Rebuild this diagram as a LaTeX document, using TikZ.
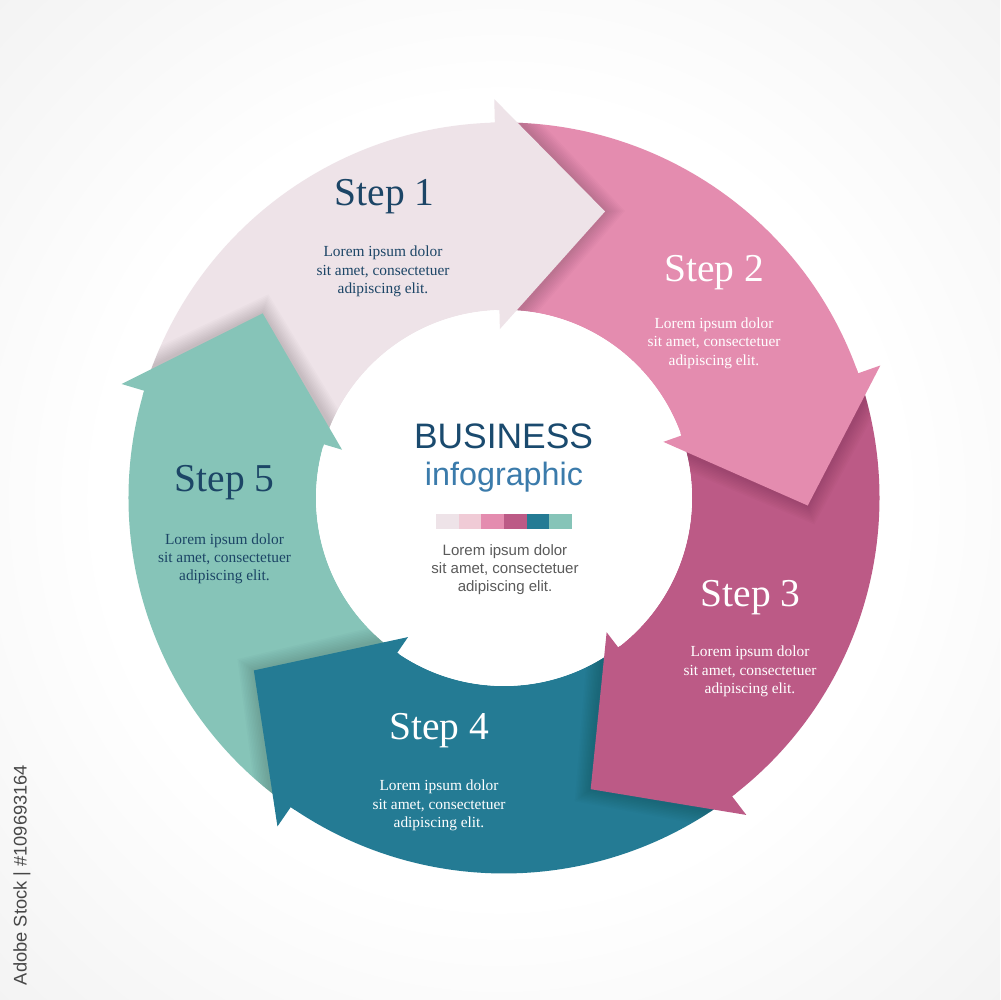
\documentclass[tikz,border=0pt]{standalone}
\usepackage{fontspec}
\setmainfont{Liberation Serif}
\newfontfamily\arialf{Liberation Sans}
\usetikzlibrary{calc}
\definecolor{cA}{HTML}{EEE3E8}
\definecolor{cAB}{HTML}{F0CBD6}
\definecolor{cB}{HTML}{E48CAF}
\definecolor{cC}{HTML}{BC5A86}
\definecolor{cD}{HTML}{247B94}
\definecolor{cE}{HTML}{86C4B8}
\definecolor{navy}{HTML}{1C4566}
\definecolor{bizblue}{HTML}{1A4A6E}
\definecolor{infoblue}{HTML}{3B7BAB}
\definecolor{loremgray}{HTML}{5A5A5A}
\pgfdeclareradialshading{bgshade}{\pgfpoint{0bp}{0bp}}{color(0bp)=(white); color(20bp)=(white); color(50bp)=(black!9); color(71bp)=(black!15)}
\tikzset{
  steptitle/.style={font=\fontsize{11.24}{13}\selectfont, inner sep=0pt, anchor=base},
  steptext/.style={font=\fontsize{4.38}{5.24}\selectfont, inner sep=0pt, align=center},
  centertext/.style={font=\arialf\fontsize{4.28}{5.04}\selectfont, inner sep=0pt, align=center, text=loremgray},
  swatch/.style={minimum width=22.67*0.1mm, minimum height=14.7*0.1mm, inner sep=0pt, outer sep=0pt, anchor=south west}
}
\begin{document}
\begin{tikzpicture}[x=0.1mm,y=0.1mm]
\useasboundingbox (0,0) rectangle (1000,1000);
\shade[shading=bgshade] (0,0) rectangle (1000,1000);

\begin{scope}[shift={(504,502)}]
  % bodies (each runs a little under its own head)
  \foreach \k/\col in {0/cA,1/cB,2/cC,3/cD,4/cE} {
    \pgfmathsetmacro\a{91.4-72*\k-1.5}
    \pgfmathsetmacro\b{91.4-72*\k+72}
    \fill[\col] (\b:375.5) arc[start angle=\b, end angle=\a, radius=375.5]
       -- (\a:188) arc[start angle=\a, end angle=\b, radius=188] -- cycle;
  }
  % soft shadows of the heads
  \begin{scope}
    \clip (0,0) circle[radius=375.5];
    \foreach \k in {0,...,4} {
      \pgfmathsetmacro\a{91.4-72*\k}
      \pgfmathsetmacro\t{\a-90}
      \foreach \i in {1,...,10} {
        \pgfmathsetmacro\ri{169-\i}
        \pgfmathsetmacro\ro{399+\i}
        \pgfmathsetmacro\sh{3+1.2*\i}
        \pgfmathsetmacro\tl{108+2*\i}
        \fill[black,opacity=0.014] ($(\a:\ri)+(\t:\sh)$) -- ($(\a:284)+(\t:\tl)$) -- ($(\a:\ro)+(\t:\sh)$) -- cycle;
      }
    }
  \end{scope}
  % inner disc
  \fill[white] (0,0) circle[radius=188];
  % heads
  \foreach \k/\col in {0/cA,1/cB,2/cC,3/cD,4/cE} {
    \pgfmathsetmacro\a{91.4-72*\k}
    \pgfmathsetmacro\t{\a-90}
    \fill[\col] (\a:169) -- ($(\a:284)+(\t:108)$) -- (\a:399) -- cycle;
  }
  % re-cover the joint between each body and its head
  \foreach \k/\col in {0/cA,1/cB,2/cC,3/cD,4/cE} {
    \pgfmathsetmacro\a{91.4-72*\k}
    \pgfmathsetmacro\b{\a+0.8}
    \pgfmathsetmacro\c{\a-0.8}
    \fill[\col] (\b:375.5) arc[start angle=\b, end angle=\c, radius=375.5]
       -- (\c:188) arc[start angle=\c, end angle=\b, radius=188] -- cycle;
  }
\end{scope}

% step titles
\node[steptitle, text=navy]  (t1) at (384.5,794) {Step 1};
\node[steptitle, text=white] (t2) at (714,718.3) {Step 2};
\node[steptitle, text=white] (t3) at (750.5,393.3) {Step 3};
\node[steptitle, text=white] (t4) at (439,260) {Step 4};
\node[steptitle, text=navy]  (t5) at (224.5,508) {Step 5};

% step texts
\node[steptext, text=navy]  (d1) at (383,728.6) {Lorem ipsum dolor\\sit amet, consectetuer\\adipiscing elit.};
\node[steptext, text=white] (d2) at (714,656.9) {Lorem ipsum dolor\\sit amet, consectetuer\\adipiscing elit.};
\node[steptext, text=white] (d3) at (750,328.6) {Lorem ipsum dolor\\sit amet, consectetuer\\adipiscing elit.};
\node[steptext, text=white] (d4) at (439,194.3) {Lorem ipsum dolor\\sit amet, consectetuer\\adipiscing elit.};
\node[steptext, text=navy]  (d5) at (224.5,441.2) {Lorem ipsum dolor\\sit amet, consectetuer\\adipiscing elit.};

% center
\node[font=\arialf\fontsize{10.07}{12}\selectfont, text=bizblue, inner sep=0pt, anchor=base] (biz) at (503.5,551) {BUSINESS};
\node[font=\arialf\fontsize{9.19}{11}\selectfont, text=infoblue, inner sep=0pt, anchor=base] (info) at (504,514) {infographic};
\node[swatch, fill=cA]  (s1) at (436,471.3) {};
\node[swatch, fill=cAB] (s2) at (458.67,471.3) {};
\node[swatch, fill=cB]  (s3) at (481.33,471.3) {};
\node[swatch, fill=cC]  (s4) at (504,471.3) {};
\node[swatch, fill=cD]  (s5) at (526.67,471.3) {};
\node[swatch, fill=cE]  (s6) at (549.33,471.3) {};
\node[centertext] (cl) at (505,430.5) {Lorem ipsum dolor\\sit amet, consectetuer\\adipiscing elit.};

% side label
\node[rotate=90, font=\arialf\fontsize{5.2}{6}\selectfont, text=black!72, inner sep=0pt] (stockid) at (22,125) {Adobe Stock | \#109693164};
\end{tikzpicture}
\end{document}
